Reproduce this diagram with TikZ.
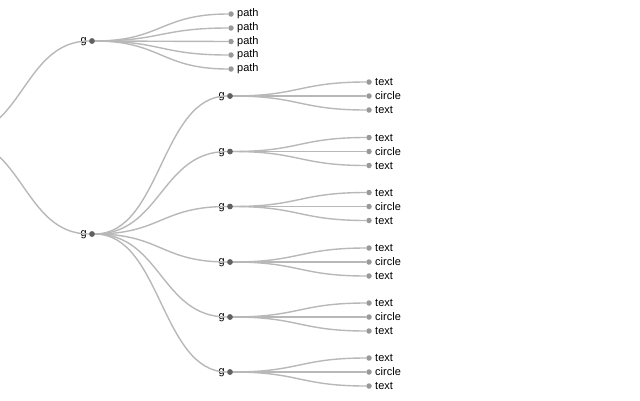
\documentclass[tikz,border=0pt]{standalone}
\usepackage{fontspec}
\setmainfont{Liberation Sans}
\begin{document}
\begin{tikzpicture}[x=1pt,y=-1pt,
  link/.style={draw=black!28,line width=1.4pt},
  inner/.style={circle,fill=black!62,inner sep=0pt,minimum size=5.5pt},
  leaf/.style={circle,fill=black!40,inner sep=0pt,minimum size=5.5pt},
  lbl/.style={font=\fontsize{11}{13}\selectfont,inner sep=0pt}]
\useasboundingbox (0,0) rectangle (640,400);
\clip (0,0) rectangle (640,400);
\coordinate (root) at (-46,137.5);
\node[inner] (g0) at (92,41) {};
\node[lbl,anchor=east] at (87,42) {g};
\node[inner] (h) at (92,234) {};
\node[lbl,anchor=east] at (87,235) {g};
\draw[link] (root) .. controls (23,137.5) and (23,41) .. (g0);
\draw[link] (root) .. controls (23,137.5) and (23,234) .. (h);
\foreach \i/\y in {1/14,2/28,3/41.5,4/55,5/69}{
  \node[leaf] (p\i) at (231,\y) {};
  \draw[link] (g0) .. controls (161,41) and (161,\y) .. (p\i);
  \node[lbl,anchor=west] at (237,\y) {path};
}
\foreach \j/\y in {1/96,2/151.5,3/206.5,4/262,5/317,6/372}{
  \node[inner] (h\j) at (230,\y) {};
  \node[lbl,anchor=east] at (225,\y+1) {g};
  \draw[link] (h) .. controls (161,234) and (161,\y) .. (h\j);
  \foreach \k/\d/\t in {a/-14/text,b/0/circle,c/14/text}{
    \node[leaf] (h\j\k) at (369,\y+\d) {};
    \draw[link] (h\j) .. controls (299.5,\y) and (299.5,\y+\d) .. (h\j\k);
    \node[lbl,anchor=west] at (375,\y+\d) {\t};
  }
  \node[inner] at (230,\y) {};
}
\node[inner] at (92,41) {};
\node[inner] at (92,234) {};
\end{tikzpicture}
\end{document}
